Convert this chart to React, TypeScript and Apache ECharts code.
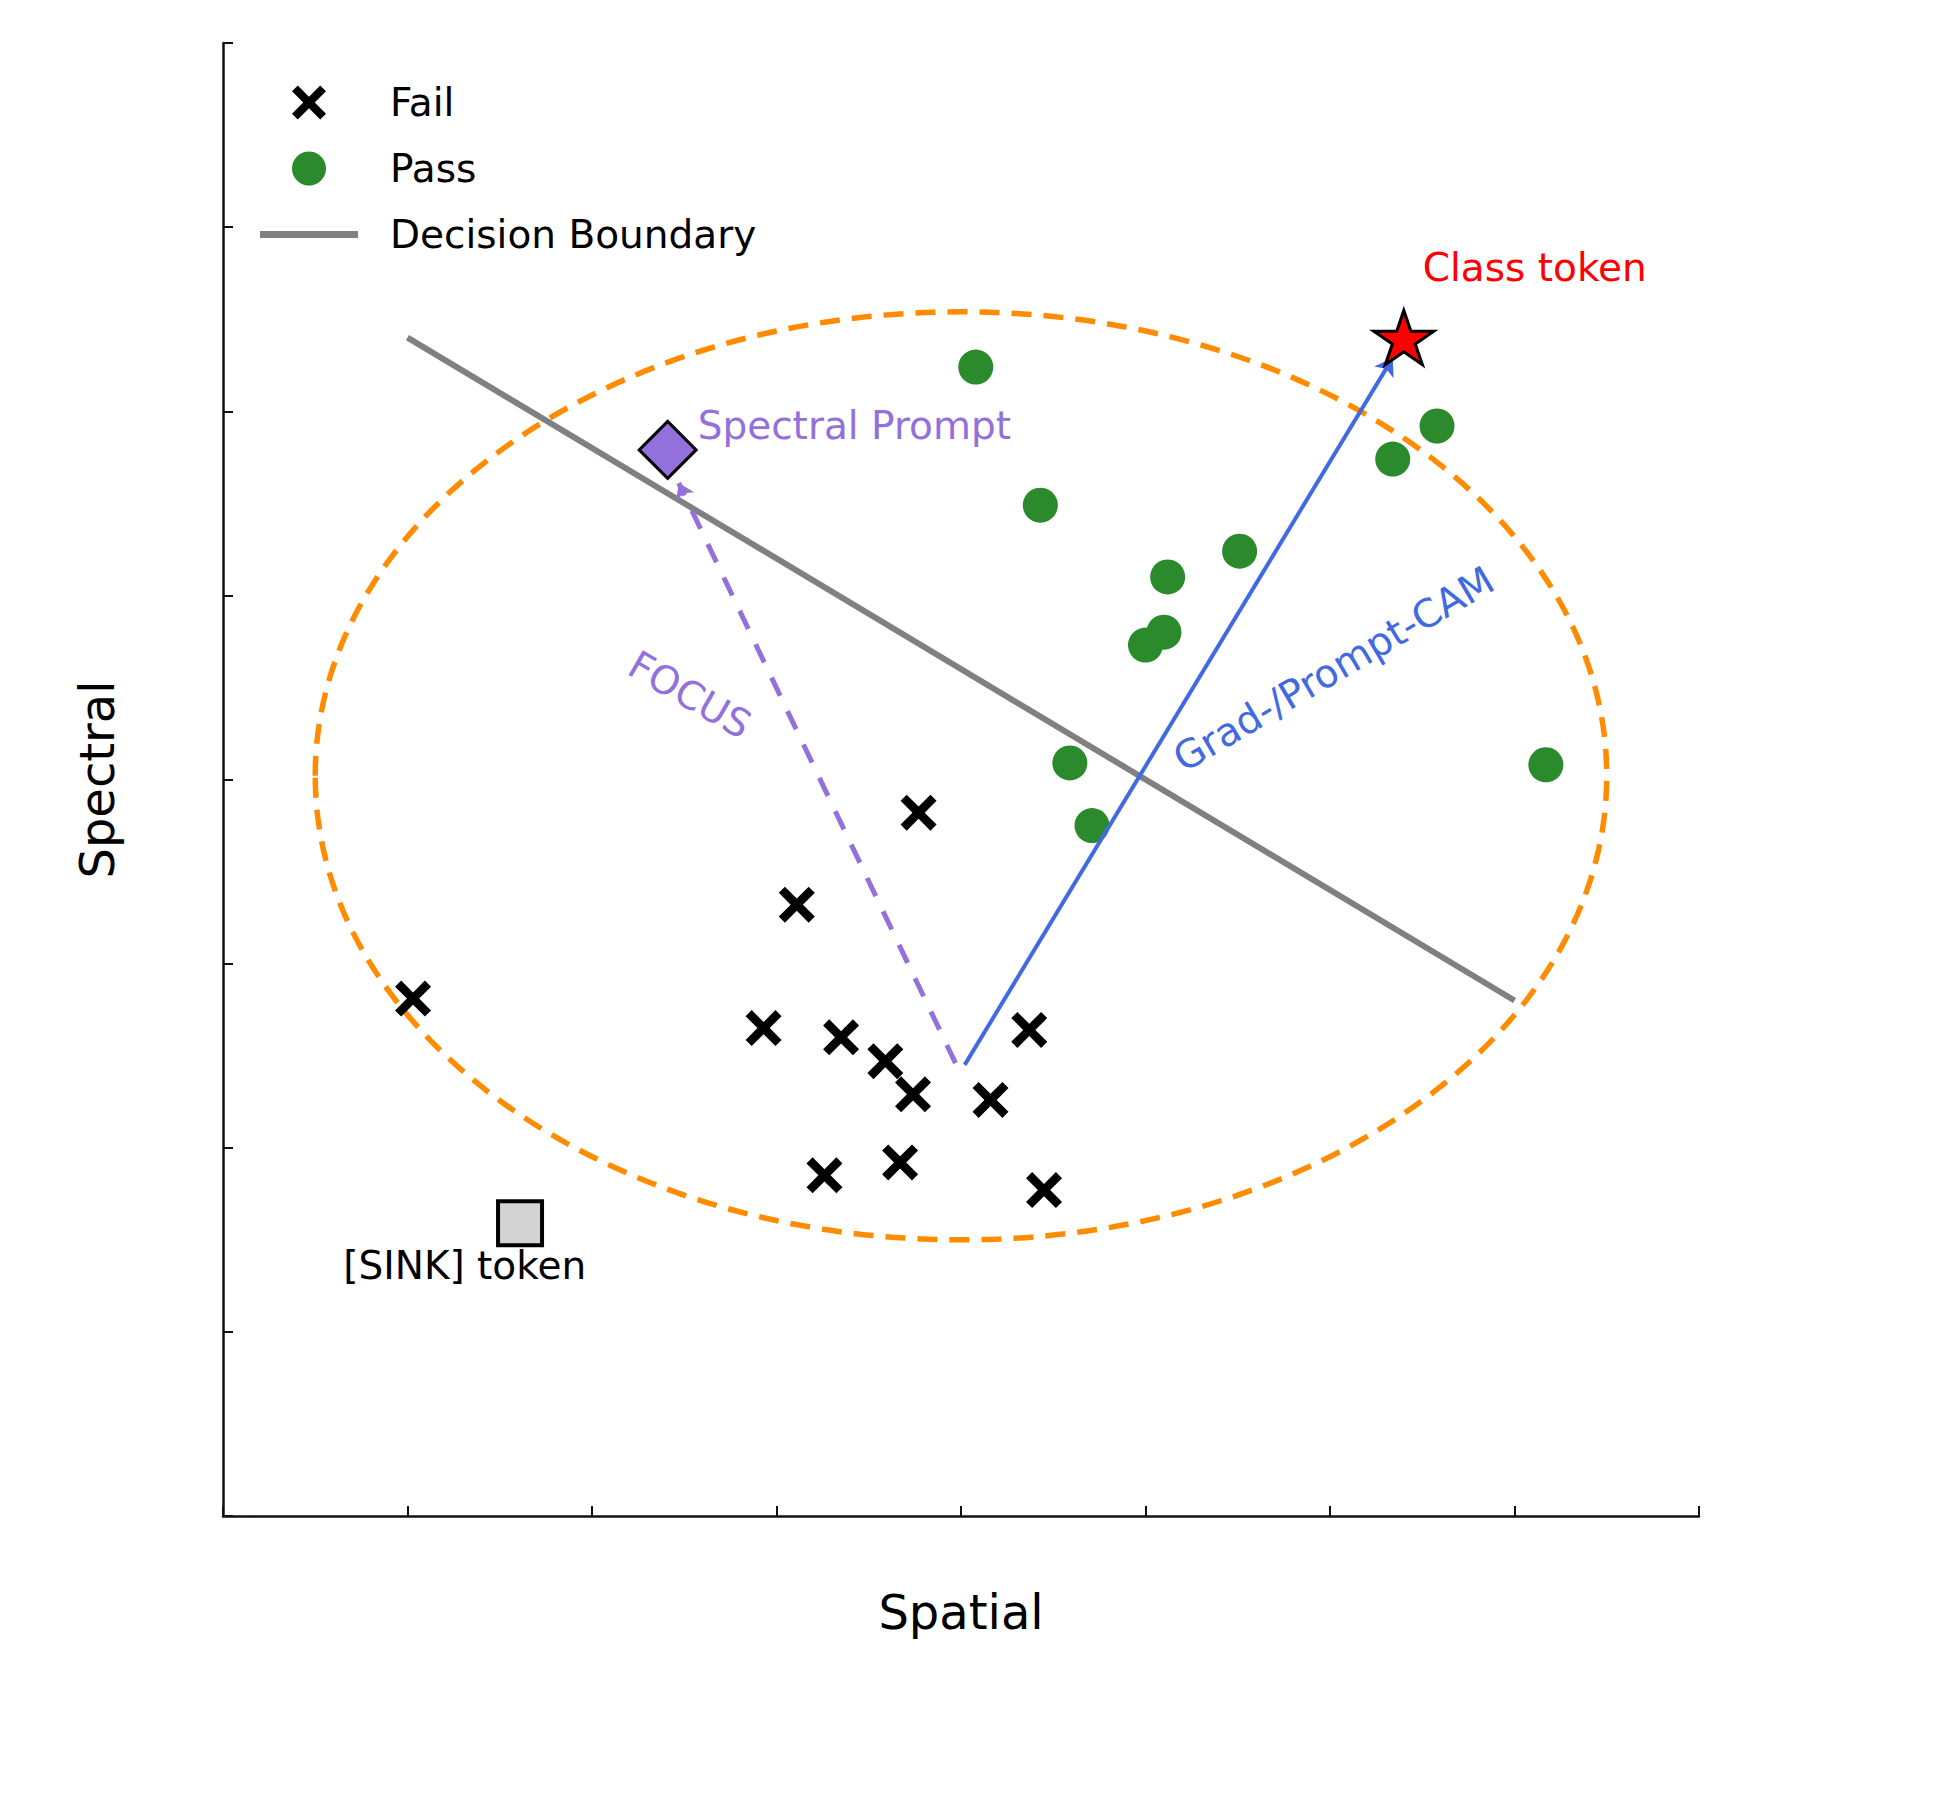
import React, { useEffect, useRef } from "react";
import * as echarts from "echarts";

const FONT = "'DejaVu Sans', Verdana, sans-serif";

// ---- data (axis units 0..8, no tick labels) ----
const axisTicks = [0, 1, 2, 3, 4, 5, 6, 7, 8];

const failPoints: number[][] = [
  [3.77, 3.82], [3.11, 3.32], [1.03, 2.81], [2.93, 2.65], [3.35, 2.6], [3.59, 2.47],
  [3.74, 2.29], [4.16, 2.26], [4.37, 2.64], [3.26, 1.85], [3.67, 1.92], [4.45, 1.77],
];

const passPoints: number[][] = [
  [4.08, 6.24], [4.43, 5.49], [5.12, 5.1], [5.51, 5.24], [5.1, 4.8], [5.0, 4.73],
  [4.59, 4.09], [4.71, 3.75], [6.34, 5.74], [6.58, 5.92], [7.17, 4.08],
];

const boundaryLine: number[][] = [[1.0, 6.4], [7.0, 2.8]];
const regionEllipse: number[] = [4.0, 4.02, 3.5, 2.52]; // cx, cy, semi-x, semi-y

const classTokenPoint: number[] = [6.4, 6.4];
const promptPoint: number[] = [2.41, 5.79];
const sinkPoint: number[] = [1.61, 1.59];

const camArrow: number[][] = [[4.02, 2.45], [6.34, 6.29]];
const focusArrow: number[][] = [[3.97, 2.46], [2.47, 5.61]];

const annotationTexts = ["Class token", "Spectral Prompt", "[SINK] token", "Grad-/Prompt-CAM", "FOCUS"];
const annotationPos: number[][] = [[6.5, 6.78], [2.57, 5.92], [1.31, 1.36], [6.02, 4.6], [2.53, 4.46]];
const annotationAngle = [0, 0, 0, 30.5, -30];

// ---- styles ----
const GREEN = "#2b8a2b";
const ORANGE = "#ff8c00";
const PURPLE = "#9370db";
const BLUE = "#4169e1";
const GREY = "#808080";
const annotationColor = ["#ff0000", PURPLE, "#000000", BLUE, PURPLE];
const annotationAlign = ["left", "left", "center", "center", "center"];

const X_PATH =
  "path://M0,17 L17,0 L50,33 L83,0 L100,17 L67,50 L100,83 L83,100 L50,67 L17,100 L0,83 L33,50 Z";
const STAR_PATH =
  "path://M50,0 L61.17,34.63 L97.55,34.55 L68.07,55.87 L79.39,90.45 L50,69 L20.61,90.45 L31.93,55.87 L2.45,34.55 L38.83,34.63 Z";
const BAR_PATH = "path://M0,0 L100,0 L100,7 L0,7 Z";

export default function App() {
  const ref = useRef<HTMLDivElement>(null);

  useEffect(() => {
    const chart = echarts.init(ref.current!, null, { renderer: "svg" });

    const axisCommon = {
      type: "value",
      min: axisTicks[0],
      max: axisTicks[axisTicks.length - 1],
      interval: 1,
      axisLabel: { show: false },
      splitLine: { show: false },
      axisLine: { show: true, onZero: false, lineStyle: { color: "#111", width: 2.5 } },
      axisTick: { show: true, inside: true, length: 10, lineStyle: { color: "#111", width: 2 } },
      nameLocation: "middle",
      nameTextStyle: { fontSize: 48, color: "#000", fontFamily: FONT },
    };

    chart.setOption({
      animation: false,
      backgroundColor: "#ffffff",
      textStyle: { fontFamily: FONT },
      grid: { left: 223, right: 241, top: 43, bottom: 288, containLabel: false },
      xAxis: { ...axisCommon, name: "Spatial", nameGap: 72 },
      yAxis: { ...axisCommon, name: "Spectral", nameGap: 102 },
      legend: {
        orient: "vertical",
        left: 255,
        top: 78,
        itemWidth: 98,
        itemHeight: 34,
        itemGap: 27,
        symbolKeepAspect: true,
        selectedMode: false,
        textStyle: { fontSize: 39, color: "#000", fontFamily: FONT, padding: [0, 0, 0, 27] },
        data: [
          { name: "Fail", icon: X_PATH, itemStyle: { color: "#000", opacity: 1 } },
          { name: "Pass", icon: "circle", itemStyle: { color: GREEN, opacity: 1 } },
          { name: "Decision Boundary", icon: BAR_PATH, itemStyle: { color: GREY, opacity: 1 } },
        ],
      },
      series: [
        {
          type: "custom",
          name: "region",
          z: 1,
          silent: true,
          clip: false,
          data: [regionEllipse],
          renderItem: (params: any, api: any) => {
            const c = api.coord([api.value(0), api.value(1)]);
            const s = api.size([api.value(2), api.value(3)]);
            return {
              type: "ellipse",
              shape: { cx: c[0], cy: c[1], rx: s[0], ry: s[1] },
              style: { fill: "none", stroke: ORANGE, lineWidth: 5.5, lineDash: [20, 12] },
            };
          },
        },
        {
          type: "line",
          name: "Decision Boundary",
          z: 2,
          silent: true,
          color: GREY,
          showSymbol: false,
          symbol: "none",
          data: boundaryLine,
          lineStyle: { color: GREY, width: 6, opacity: 1 },
        },
        {
          type: "scatter",
          name: "Pass",
          z: 3,
          silent: true,
          symbol: "circle",
          symbolSize: 35,
          color: GREEN,
          itemStyle: { color: GREEN, opacity: 1 },
          data: passPoints,
        },
        {
          type: "scatter",
          name: "Fail",
          z: 3,
          silent: true,
          symbol: X_PATH,
          symbolSize: 36,
          symbolKeepAspect: true,
          color: "#000",
          itemStyle: { color: "#000", opacity: 1 },
          data: failPoints,
        },
        {
          type: "lines",
          name: "cam",
          coordinateSystem: "cartesian2d",
          z: 4,
          silent: true,
          symbol: ["none", "arrow"],
          symbolSize: 17,
          lineStyle: { color: BLUE, width: 4, opacity: 1 },
          data: [{ coords: camArrow }],
        },
        {
          type: "lines",
          name: "focus",
          coordinateSystem: "cartesian2d",
          z: 4,
          silent: true,
          symbol: ["none", "arrow"],
          symbolSize: 15,
          lineStyle: { color: PURPLE, width: 5, type: [20, 17], opacity: 1 },
          data: [{ coords: focusArrow }],
        },
        {
          type: "scatter",
          name: "Class token",
          z: 5,
          silent: true,
          symbol: STAR_PATH,
          symbolSize: [60, 57],
          symbolKeepAspect: true,
          itemStyle: { color: "#ff0000", borderColor: "#000", borderWidth: 3, opacity: 1 },
          data: [classTokenPoint],
        },
        {
          type: "scatter",
          name: "Spectral Prompt",
          z: 5,
          silent: true,
          symbol: "diamond",
          symbolSize: 57,
          itemStyle: { color: PURPLE, borderColor: "#000", borderWidth: 3, opacity: 1 },
          data: [promptPoint],
        },
        {
          type: "scatter",
          name: "SINK",
          z: 5,
          silent: true,
          symbol: "rect",
          symbolSize: 44,
          itemStyle: { color: "#d3d3d3", borderColor: "#000", borderWidth: 4, opacity: 1 },
          data: [sinkPoint],
        },
        {
          type: "scatter",
          name: "annotations",
          z: 10,
          silent: true,
          symbol: "circle",
          symbolSize: 1,
          itemStyle: { color: "rgba(0,0,0,0)", opacity: 1 },
          data: annotationTexts.map((t, i) => ({
            value: annotationPos[i],
            label: {
              show: true,
              formatter: t,
              position: annotationAlign[i] === "left" ? "right" : "inside",
              distance: 0,
              align: annotationAlign[i],
              verticalAlign: "middle",
              rotate: annotationAngle[i],
              color: annotationColor[i],
              opacity: 1,
              fontSize: 39,
              fontFamily: FONT,
            },
          })),
        },
      ],
    });

    return () => chart.dispose();
  }, []);

  return (
    <div
      ref={ref}
      style={{ position: "fixed", left: 0, top: 0, width: 1940, height: 1804, background: "#fff" }}
    />
  );
}
